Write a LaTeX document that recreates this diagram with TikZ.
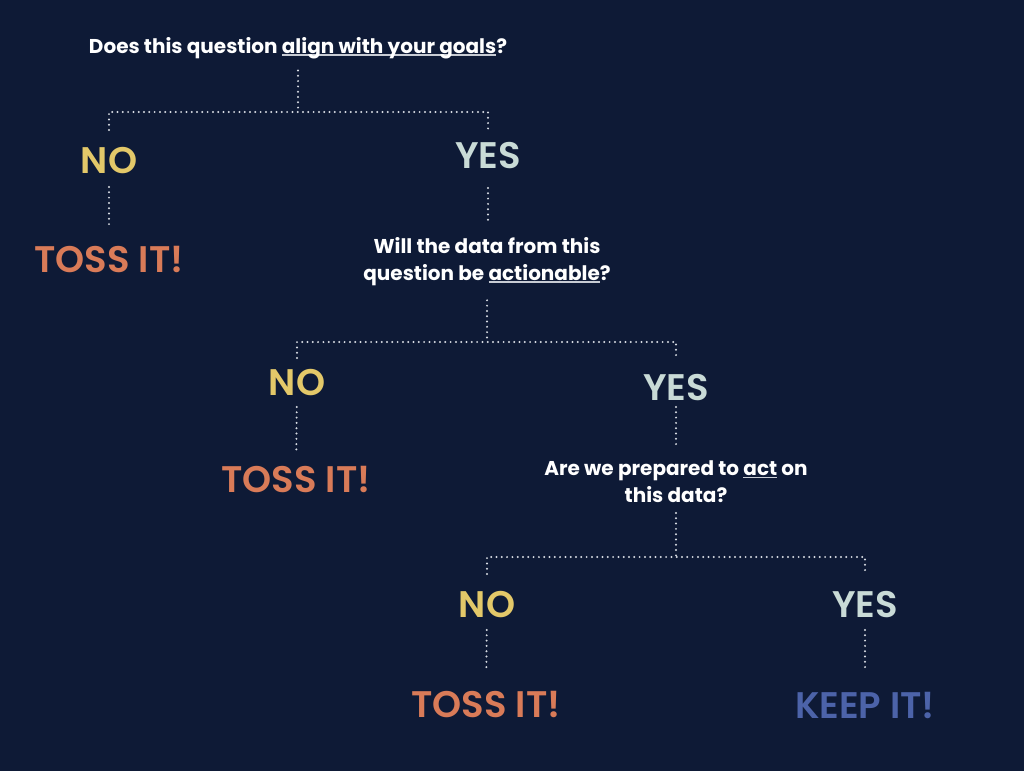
\documentclass[tikz,border=0pt]{standalone}
\usepackage{fontspec}
\setmainfont{Poppins}
\newfontfamily\labfont{Poppins SemiBold}
\definecolor{bgc}{HTML}{0E1A36}
\definecolor{noc}{HTML}{E3C869}
\definecolor{yesc}{HTML}{C9DBD7}
\definecolor{tossc}{HTML}{D97B58}
\definecolor{keepc}{HTML}{4C63A9}
\definecolor{dotc}{HTML}{D8DCE3}
\definecolor{ulc}{HTML}{C8CCD4}
\newcommand\ulx[1]{\setbox0\hbox{#1}\rlap{\textcolor{ulc}{\rule[-2.5pt]{\wd0}{1.3pt}}}\box0\relax}
\begin{document}
\begin{tikzpicture}[x=1pt,y=-1pt,
  dots/.style={draw=dotc, line width=2.2pt, line cap=round, dash pattern=on 0pt off 5.3pt},
  quest/.style={text=white, font=\bfseries\fontsize{20}{27}\selectfont, align=center, inner sep=0pt, outer sep=0pt},
  lab/.style={font=\labfont\fontsize{37}{37}\selectfont, inner sep=0pt, outer sep=0pt, text height=27pt, text depth=0pt, anchor=base},
  nolab/.style={lab, text=noc},
  yeslab/.style={lab, text=yesc},
  tosslab/.style={lab, text=tossc},
  keeplab/.style={lab, text=keepc}
]
\fill[bgc] (0,0) rectangle (1024,771);
\useasboundingbox (0,0) rectangle (1024,771);

% level 1
\node[quest, anchor=base] (q1) at (298,53) {Does this question \ulx{align with your goals}?};
\coordinate (j1) at (298,112);
\node[nolab] (no1) at (109,173) {NO};
\node[yeslab] (yes1) at (488,168) {YES};
\node[tosslab] (toss1) at (109,272) {TOSS IT!};

% level 2
\node[quest, anchor=north] (q2) at (487,237) {Will the data from this\\question be \ulx{actionable}?};
\coordinate (j2) at (487,342);
\node[nolab] (no2) at (297,395) {NO};
\node[yeslab] (yes2) at (676,400) {YES};
\node[tosslab] (toss2) at (296,492) {TOSS IT!};

% level 3
\node[quest, anchor=north] (q3) at (676,461) {Are we prepared to \ulx{act} on\\this data?};
\coordinate (j3) at (676,557);
\node[nolab] (no3) at (487,617) {NO};
\node[yeslab] (yes3) at (865,617) {YES};
\node[tosslab] (toss3) at (486,717) {TOSS IT!};
\node[keeplab] (keep) at (865,718) {KEEP IT!};

% connectors
\draw[dots, shorten <=12pt] (q1.south) -- (j1);
\draw[dots, shorten <=16pt, shorten >=11pt] (no1) |- (j1) -| (yes1);
\draw[dots, shorten <=14pt, shorten >=16pt] (no1) -- (toss1);
\draw[dots, shorten <=20pt, shorten >=16pt] (yes1) -- (yes1 |- q2.north);

\draw[dots, shorten <=15pt] (q2.south) -- (j2);
\draw[dots, shorten <=10pt, shorten >=15pt] (no2) |- (j2) -| (yes2);
\draw[dots, shorten <=12pt, shorten >=15pt] (no2) -- (toss2);
\draw[dots, shorten <=7pt, shorten >=12pt] (yes2) -- (q3.north);

\draw[dots, shorten <=10pt] (q3.south) -- (j3);
\draw[dots, shorten <=16pt, shorten >=16pt] (no3) |- (j3) -| (yes3);
\draw[dots, shorten <=13pt, shorten >=18pt] (no3) -- (toss3);
\draw[dots, shorten <=13pt, shorten >=19pt] (yes3) -- (keep);
\end{tikzpicture}
\end{document}
